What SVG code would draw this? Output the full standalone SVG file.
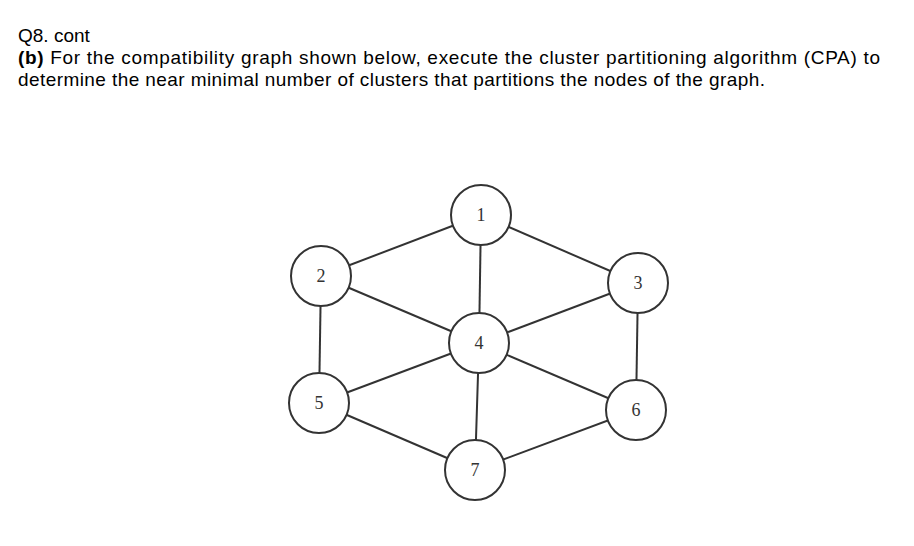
<svg xmlns="http://www.w3.org/2000/svg" width="914" height="546" viewBox="0 0 914 546">
<style>
.h{font-family:"Liberation Sans",Arial,sans-serif;font-size:19px;fill:#000}
.n circle{fill:#fff;stroke:#333;stroke-width:2}
.n text{font-family:"Liberation Serif","Times New Roman",serif;font-size:18px;fill:#333;text-anchor:middle;dominant-baseline:central}
#edges line{stroke:#333;stroke-width:2}
</style>
<rect width="914" height="546" fill="#fff"/>
<text class="h" x="18" y="42">Q8. cont</text>
<text class="h" x="18" y="64" textLength="862" lengthAdjust="spacing"><tspan font-weight="bold">(b)</tspan>  For the compatibility graph shown below, execute the cluster partitioning algorithm (CPA) to</text>
<text class="h" x="18" y="86" textLength="747" lengthAdjust="spacing">determine the near minimal number of clusters that partitions the nodes of the graph.</text>
<g id="edges">
<line x1="481" y1="215" x2="321" y2="276"/>
<line x1="481" y1="215" x2="638" y2="283"/>
<line x1="481" y1="215" x2="479" y2="343"/>
<line x1="321" y1="276" x2="479" y2="343"/>
<line x1="321" y1="276" x2="319" y2="403"/>
<line x1="638" y1="283" x2="479" y2="343"/>
<line x1="638" y1="283" x2="636" y2="410"/>
<line x1="479" y1="343" x2="319" y2="403"/>
<line x1="479" y1="343" x2="636" y2="410"/>
<line x1="479" y1="343" x2="475" y2="470"/>
<line x1="319" y1="403" x2="475" y2="470"/>
<line x1="636" y1="410" x2="475" y2="470"/>
</g>
<g id="n1" class="n"><circle cx="481" cy="215" r="30"/><text x="481" y="215">1</text></g>
<g id="n2" class="n"><circle cx="321" cy="276" r="30"/><text x="321" y="276">2</text></g>
<g id="n3" class="n"><circle cx="638" cy="283" r="30"/><text x="638" y="283">3</text></g>
<g id="n4" class="n"><circle cx="479" cy="343" r="30"/><text x="479" y="343">4</text></g>
<g id="n5" class="n"><circle cx="319" cy="403" r="30"/><text x="319" y="403">5</text></g>
<g id="n6" class="n"><circle cx="636" cy="410" r="30"/><text x="636" y="410">6</text></g>
<g id="n7" class="n"><circle cx="475" cy="470" r="30"/><text x="475" y="470">7</text></g>
</svg>
